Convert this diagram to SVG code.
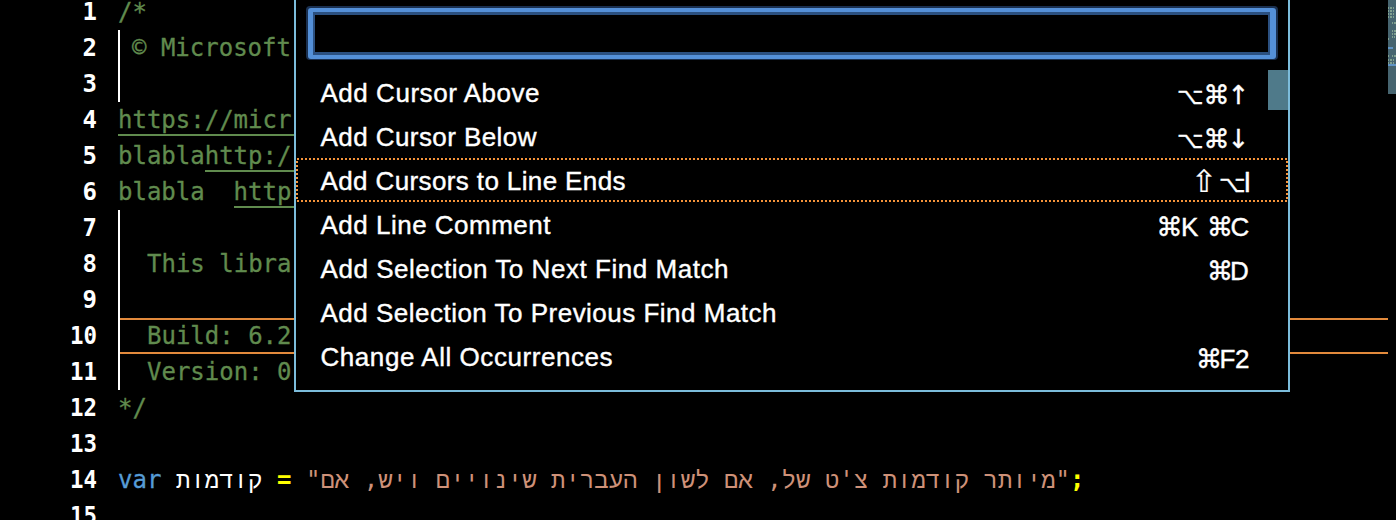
<svg xmlns="http://www.w3.org/2000/svg" width="1396" height="520" viewBox="0 0 1396 520">
<style>
text{white-space:pre}
.ln{font:bold 24px "DejaVu Sans Mono","Liberation Mono",monospace;fill:#fff;text-anchor:end}
.c{font:24px "DejaVu Sans Mono","Liberation Mono",monospace;fill:#608b4e;stroke:#608b4e;stroke-width:.3}
.u{fill:#608b4e}
.o{fill:#e28a3c}
.m{font:26px "Liberation Sans",Arial,sans-serif;fill:#fff;stroke:#fff;stroke-width:.4}
.k{font:26px "DejaVu Sans","Liberation Sans",sans-serif;fill:#fff;stroke:#fff;stroke-width:.4}
.l{font:26px "Liberation Sans","DejaVu Sans",sans-serif;fill:#fff;stroke:#fff;stroke-width:.4}
.a{font-size:23px}
.sh{font-size:31px;stroke-width:.2}
.s{stroke-width:2;fill:none;stroke-dasharray:1 1 2 1 1 2}
</style>
<rect width="1396" height="520" fill="#000"/>
<g id="minimap">
<rect x="1388" y="0" width="8" height="94" fill="#46646f"/>
<path class="s" stroke="#7f9f8f" d="M1388 8H1396M1388 11H1396M1388 14H1396M1388 17H1394M1392 23H1396M1392 31H1396M1392 34H1396M1392 37H1395M1388 39H1390M1388 56H1390M1392 56H1396M1388 60H1396M1388 63H1396"/>
<path stroke="#5f93c4" stroke-width="2" fill="none" d="M1388 48H1393M1388 65H1396"/>
</g>
<g id="gutter">
<text class="ln" x="97" y="20">1</text><text class="ln" x="97" y="56">2</text><text class="ln" x="97" y="92">3</text><text class="ln" x="97" y="128">4</text><text class="ln" x="97" y="164">5</text><text class="ln" x="97" y="200">6</text><text class="ln" x="97" y="236">7</text><text class="ln" x="97" y="272">8</text><text class="ln" x="97" y="308">9</text><text class="ln" x="97" y="344" textLength="27" lengthAdjust="spacingAndGlyphs">10</text><text class="ln" x="97" y="380" textLength="27" lengthAdjust="spacingAndGlyphs">11</text><text class="ln" x="97" y="416" textLength="27" lengthAdjust="spacingAndGlyphs">12</text><text class="ln" x="97" y="452" textLength="27" lengthAdjust="spacingAndGlyphs">13</text><text class="ln" x="97" y="488" textLength="27" lengthAdjust="spacingAndGlyphs">14</text><text class="ln" x="97" y="524" textLength="27" lengthAdjust="spacingAndGlyphs">15</text>
</g>
<g id="code">
<rect x="118" y="30" width="2" height="72" fill="#fff"/>
<rect x="118" y="210" width="2" height="180" fill="#fff"/>
<rect class="u" x="118" y="134" width="178" height="2"/>
<rect class="u" x="205" y="170" width="91" height="2"/>
<rect class="u" x="234" y="206" width="62" height="2"/>
<rect class="o" x="120" y="318" width="176" height="2"/>
<rect class="o" x="120" y="352" width="176" height="2"/>
<rect class="o" x="1290" y="318" width="98" height="2"/>
<rect class="o" x="1290" y="352" width="98" height="2"/>
<text class="c" x="118" y="20">/*</text>
<text class="c" x="132" y="56">© Microsoft</text>
<text class="c" x="118" y="128">https://micr</text>
<text class="c" x="118" y="164">blablahttp:/</text>
<text class="c" x="118" y="200">blabla  http</text>
<text class="c" x="147" y="272">This libra</text>
<text class="c" x="147" y="344">Build: 6.2</text>
<text class="c" x="147" y="380">Version: 0</text>
<text class="c" x="118" y="416">*/</text>
<text class="c" x="118" y="488" style="fill:#569cd6;stroke:#569cd6">var</text>
<text class="c" x="176" y="488" style="fill:#fff;stroke:none">קודמות</text>
<text class="c" x="277" y="488" style="fill:#ffff00;stroke:none;font-weight:bold">=</text>
<text class="c" x="306" y="488" direction="ltr" style="fill:#ce9178;stroke:none">"<tspan direction="rtl" unicode-bidi="embed">מיותר קודמות צ'ט של, אם לשון העברית שינויים ויש, אם</tspan>"</text>
<text class="c" x="1070" y="488" style="fill:#ffff00;stroke:none;font-weight:bold">;</text>
</g>
<g id="panel">
<rect x="295" y="-4" width="994" height="395" fill="#000" stroke="#7cbcdb" stroke-width="2"/>
<rect x="306" y="6" width="972" height="54" rx="4" fill="#1a3050"/>
<rect x="308" y="8" width="968" height="51" rx="3" fill="#5490d8"/>
<rect x="313" y="12" width="957" height="43" fill="#2b5080"/>
<rect x="315" y="15" width="953" height="37" fill="#000"/>
<rect x="1268" y="70" width="20" height="40" fill="#4f7a8a"/>
<rect x="297" y="159" width="990" height="42" fill="none" stroke="#f5933a" stroke-width="2" stroke-dasharray="2 2"/>
</g>
<g id="items">
<text class="m" x="320.5" y="102" textLength="219">Add Cursor Above</text><text class="k" y="104"><tspan class="a" x="1177">⌥</tspan><tspan x="1203.5 1227.5">⌘↑</tspan></text>
<text class="m" x="320.5" y="146" textLength="216">Add Cursor Below</text><text class="k" y="148"><tspan class="a" x="1177">⌥</tspan><tspan x="1203.5 1227.5">⌘↓</tspan></text>
<text class="m" x="320.5" y="190" textLength="305">Add Cursors to Line Ends</text><text class="k" y="192"><tspan class="sh" x="1191">⇧</tspan><tspan class="a" x="1219">⌥</tspan><tspan x="1243.5">I</tspan></text>
<text class="m" x="320.5" y="234" textLength="230">Add Line Comment</text><text class="l" x="1156.5 1181 1200 1207 1230.5" y="236">⌘K ⌘C</text>
<text class="m" x="320.5" y="278" textLength="408">Add Selection To Next Find Match</text><text class="l" x="1207 1230" y="280">⌘D</text>
<text class="m" x="320.5" y="322" textLength="456">Add Selection To Previous Find Match</text>
<text class="m" x="320.5" y="366" textLength="292">Change All Occurrences</text><text class="l" x="1196 1219.5 1235" y="368">⌘F2</text>
</g>
</svg>
